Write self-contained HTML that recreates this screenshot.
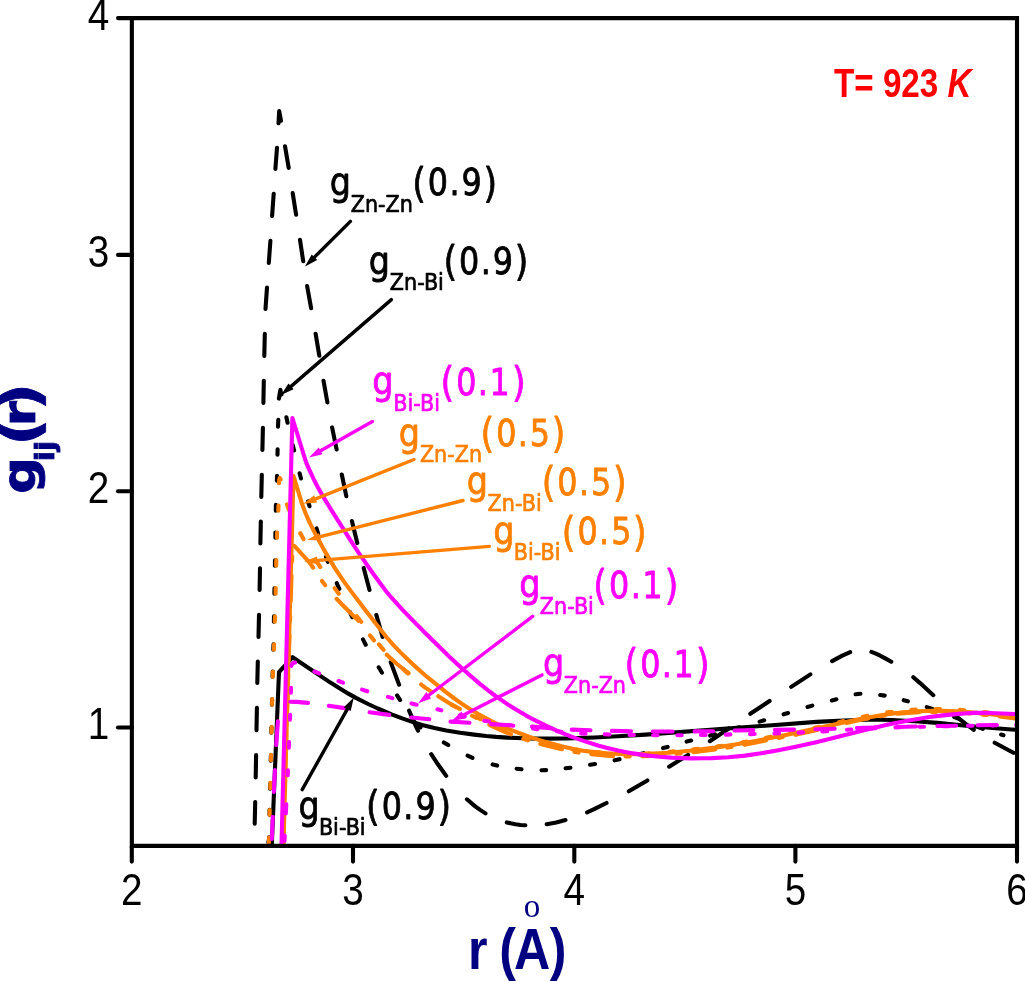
<!DOCTYPE html>
<html><head><meta charset="utf-8"><title>g_ij(r) T=923K</title>
<style>html,body{margin:0;padding:0;background:#fff}svg{display:block}</style></head>
<body><svg width="1025" height="981" viewBox="0 0 1025 981">
<defs><clipPath id="pc"><rect x="131.85" y="18" width="885.15" height="827.9"/></clipPath></defs>
<rect width="1025" height="981" fill="#fff"/>
<g clip-path="url(#pc)">
<path d="M254.7 823.6 L255.2 802 M255.7 777.4 L256.1 755.1 M256.5 730.2 L256.9 707.9 M257.3 682.9 L257.8 661.5 M258.5 636.9 L259 614.9 M259.6 589.9 L260 568.2 M260.4 543.5 L260.8 521.5 M261.3 496.9 L261.8 474.9 M262.4 449.9 L262.9 427.9 M263.4 402.9 L263.8 380.9 M264.3 355.9 L264.8 333.9 M265.5 308.9 L267 287.5 M268.8 262.9 L270.4 240.8 M272.1 215.9 L273.7 193.8 M275.4 168.9 L277 147.7 M278.5 123.3 L279.2 111 L281 120.8 M285 146.2 L288.7 167.9 M292.7 193.1 L296.1 214.7 M300 239.7 L303.2 261.3 M307.1 286 L311.1 308.2 M315.6 333.7 L319.3 355.7 M323.5 380.7 L327.4 402.5 M332.1 427.4 L336.6 449.4 M341.8 474.5 L346.3 496.2 M351.9 521.1 L357.3 542.9 M363.7 567.9 L369.5 589.9 M376.3 614.9 L382.6 637 M390.7 662.1 L399.1 684.7 M409.1 710.6 L413.6 721.4 L418 730.7 M431.2 754.2 L437.9 764.3 L446.2 775.9 M466.9 799.3 L474.9 806.1 L480.1 809.9 L485.5 813.4 M506.8 822.4 L510.5 823.3 L515.5 824.3 L520.5 825 L525.3 825.3 M546.7 824.2 L556.3 822.4 L565.5 820.1 M587.1 812.3 L594.1 809.2 L606.5 803 M628.8 791.3 L647.4 780.4 M669.1 766.7 L688.1 754.9 M709.8 741.2 L728.8 728.5 M750.3 713.8 L769.6 701 M791.2 686.9 L810.4 674.4 M832.1 661.1 L842.3 655.6 L850.2 652.2 M871.4 651.9 L875.9 653.7 L880.2 655.7 L884.8 658.1 L891.3 661.8 M913.3 677.2 L920.1 683.1 L933.3 695.2 M955.6 715.8 L966 724.1 L973.8 729.8 M994.7 742.7 L1013.4 752.8" stroke="#000" stroke-width="4.1" fill="none" stroke-linecap="round" stroke-linejoin="round"/>
<path d="M268.4 842.3 L269 839.6 L269.1 837.2 M269.5 814.7 L269.6 809.9 M270.1 788.7 L270.3 783.3 M270.7 760.7 L270.9 755.3 M271.3 732.7 L271.5 727.3 M271.9 704.7 L272.1 699.3 M272.5 676.7 L272.7 671.6 M273.3 649.7 L273.5 644.3 M273.9 621.7 L274 616.3 M274.4 593.7 L274.5 588.3 M274.9 565.7 L275 560.3 M275.4 537.7 L275.4 532.6 M275.8 510.7 L275.9 504.7 M276.9 480.7 L277 475.9 M277.5 454.7 L277.6 449.3 M278 426.7 L278.3 419.8 M280.1 394.6 L280.4 389.8 L280.8 391.8 M286.4 417.3 L287.6 422.7 M292.8 445.2 L294.1 450.5 M299.6 473.3 L301 478.5 M308 501.4 L309.5 506.2 M316.5 528.4 L318.2 533.9 M325.9 556.9 L327.8 561.8 M336.8 583.2 L339.3 588.9 M349.8 611.9 L352.2 617.1 M363 639.4 L365.7 644.7 M378.7 667.3 L382 672.7 M397.1 695.4 L400.1 700.1 M413.7 721.2 L416 723.7 L420.4 727.4 M443.8 742.5 L448.2 745.1 M467.6 755.6 L472.5 757.8 M492.6 764.4 L497.2 765.6 M516.6 768.7 L521.5 769.2 M541.5 770.2 L546.1 770.1 M565.6 768.3 L570.4 767.7 M590.1 764.8 L595 764 M614.6 760.3 L619.5 759.2 M639.2 754.3 L643.7 753.2 M663.1 748.1 L667.6 746.9 M686.6 741.6 L691.1 740.5 M710.2 735.6 L715 734.3 M734.8 728.6 L739.5 727.3 M759.6 721.6 L764.2 720.3 M783.6 714.3 L788.1 713 M807.5 707 L812.3 705.6 M831.9 700.5 L836.4 699.3 M855.6 694.3 L860.4 693.8 M880.2 695 L884.7 695.6 M903.7 700.2 L907.9 701.3 M926.8 707.1 L932.5 709 M954.2 717.1 L958.9 718.9 M978.7 727.4 L982.8 728.9 M1001.1 734.5 L1003.5 735.2 M278.9 398.6 L280.3 390.2 L281.5 394.6" stroke="#000" stroke-width="4.1" fill="none" stroke-linecap="round" stroke-linejoin="round"/>
<path d="M271.8 845 L279 672.2 L292.6 657.2 L330.4 682.6 L347.9 693.4 L355.9 697.9 L368.1 704 L377.8 708.5 L391.5 714.3 L402.2 718.4 L412.3 721.9 L422.1 724.9 L434.5 728 L446.2 730.4 L460.2 732.7 L474.1 734.6 L486.3 736 L496.2 736.9 L507 737.6 L523.3 738.3 L536.7 738.6 L567.1 738.4 L594.6 737.5 L617.7 736.3 L645.6 734.6 L816.6 721.9 L843.4 720.5 L868.1 719.7 L880.1 719.7 L891.8 720 L914.7 721.2 L937.6 722.9 L971.2 726.2 L995.6 728.3 L1011.5 729.5 L1030 730.5" stroke="#000" stroke-width="4.1" fill="none" stroke-linecap="round" stroke-linejoin="round" stroke-linejoin="miter"/>
<path d="M283.5 845 L293.5 475.9 L301.8 503.1 L304.3 509.9 L307 516.7 L310.5 524.3 L316.2 535.6 L323.3 548.6 L329.7 559.6 L335.2 568.6 L340.4 576.4 L345.2 583.4 L353 593.9 L366 611.1 L381.4 630.8 L386.8 637.5 L394.4 646.1 L400.5 652.4 L408 659.7 L417.2 668.2 L427.4 677.2 L446.3 692.4 L454.4 698.5 L462.4 704.1 L470.3 709.2 L478.2 714 L490 720.4 L497.8 724.3 L505.6 727.7 L513.3 730.9 L531.1 737.5 L544 741.4 L561.5 746.3 L574.9 749.3 L584.5 750.9 L599.9 752.7 L614 753.8 L632.8 754.2 L648.5 753.9 L668.7 752.7 L689.6 750.7 L715 747.6 L735 744.6 L754.3 741.2 L784.5 735.2 L861.1 718.7 L884 714.7 L891.7 713.6 L903.1 712.4 L918.4 711.3 L929.8 710.9 L941.3 710.9 L956.5 711.4 L968.1 712.1 L990.1 714.1 L1030 718.5" stroke="#ff8000" stroke-width="4.1" fill="none" stroke-linecap="round" stroke-linejoin="round" />
<path d="M282.7 837.8 L283.6 812.6 M284.1 798.2 L284.2 793.4 M284.7 778.7 L285.6 753.5 M286.1 739.1 L286.2 734.3 M286.7 719.3 L287.6 694.3 M288 679.9 L288.2 675.1 M288.7 660.1 L289.5 635.2 M290 620.8 L290.2 616 M290.7 601 L291.5 575.8 M292 561.4 L292.2 556.6 M294.4 545.9 L307.6 560.4 L309.6 562.8 L313.2 567.7 M322 581 L325.2 585.2 M336.6 598.8 L342.8 605.2 L358.5 620.9 M369.9 635.4 L374 640.4 M386.8 654.7 L390.9 658.6 L397 664 L408.6 673.2 M421.1 684.5 L425.2 687.7 M438.3 696.2 L449 703 L459.9 709 M472.2 715.7 L476.4 718 M489.4 724.8 L497.9 728.8 L510.9 734.3 M523.3 738.9 L527.6 740.3 M540.3 743.9 L561.9 749.2 M574.4 751.9 L578.6 752.6 M591.3 754.2 L601.9 755.3 L613.1 756.1 M625.5 756.5 L629.6 756.5 M642.4 756.3 L652 755.9 L664 755 M676.6 753.8 L680.7 753.4 M693.4 752.1 L715.2 749.4 M727.4 747.6 L731.5 746.9 M744.5 744.7 L766 740.4 M778.6 737.9 L782.7 737.1 M795.4 734.7 L817.2 730 M829.6 727.1 L833.7 726.1 M846.7 723.1 L857.3 720.6 L868.2 718.4 M880.6 716.1 L884.7 715.5 M897.7 713.8 L906.9 712.9 L919.3 712.2 M931.7 711.9 L935.9 711.9 M948.6 712.2 L960.4 712.7 L970.3 713.4 M982.6 714.6 L986.7 715 M999.5 716.4 L1021.2 719.1" stroke="#ff8000" stroke-width="4.1" fill="none" stroke-linecap="round" stroke-linejoin="round"/>
<path d="M268.9 842.8 L269.1 837.5 M269.6 814.8 L269.7 810 M270.3 788.3 L270.4 782.8 M270.9 760.3 L271.1 754.8 M271.5 732.4 L271.7 726.9 M272.1 704.6 L272.2 699.1 M272.7 676.8 L272.9 671.8 M273.9 649.7 L274.1 644.4 M274.8 621.6 L275 616.2 M275.6 593.7 L275.7 588.1 M276.2 565.6 L276.3 560.1 M276.9 537.8 L277.1 532.6 M278.3 510.6 L278.5 505.5 M278.9 483.2 L279.3 478.9 L279.8 478 L280.4 478.8 L280.6 479.4 M286.9 504.4 L289 510.1 M300.3 533.2 L303.5 539.1 M317.3 562.3 L320.3 567.1 M334.7 588.2 L338.8 593.7 M356.8 616.2 L361.2 621.8 M378.9 644.4 L383.6 649.8 M403.2 669.2 L407.9 673.4 M427.3 688.8 L431.9 692.1 M451.7 705 L456.1 707.1 M475.9 716.9 L480.5 719.3 M499.9 728.7 L504.7 730.7 M524.1 738.2 L528.7 739.6 M548.2 744 L553 745 M572.5 749.2 L577.2 749.8 M596.9 752 L601.3 752.5 M621 753.7 L625.5 753.8 M645.2 753.5 L649.9 753.3 M669.3 751.8 L674 751.4 M693.4 749.4 L698.1 748.8 M717.7 746.4 L722.2 745.7 M742 742.4 L746.7 741.6 M766 737.7 L770.8 736.7 M790.4 732.9 L794.8 732 M814.6 727.8 L819 726.8 M838.7 722.2 L843.5 721.1 M862.9 716.7 L867.5 715.8 M887.2 712.3 L891.7 711.7 M911.4 709.8 L915.8 709.6 M935.6 709.1 L940 709.1 M959.8 709.9 L964.2 710.2 M983.9 712 L988.6 712.5 M1008.2 714.8 L1012.8 715.3" stroke="#ff8000" stroke-width="4.1" fill="none" stroke-linecap="round" stroke-linejoin="round"/>
<path d="M271.8 839 L272.8 816.8 M273.9 791.9 L274.9 770 M276.2 745 L277.9 721.3 M290.3 701.8 L296.3 701.9 L308 702.9 M328.8 705.8 L347.8 708.6 M369.6 712.3 L389.3 714.9 M411.4 717.5 L429.3 719.2 M450.5 721.6 L469.5 722.8 M491.2 724.1 L510.1 725.2 M531.9 726.6 L550.6 728.1 M571.8 729.6 L590.4 730.3 M611.9 730.9 L631 731.2 M652.8 731.5 L672.5 731.5 M694.6 731.4 L713.2 731.2 M734.5 730.5 L753.3 730.1 M774.9 729.9 L794 729.6 M815.4 729.2 L834.7 728.7 M856.8 728 L875.7 727.5 M897 727 L916 726.5 M937.5 726 L956.1 725.7 M977.7 725.3 L996.5 725 M1018.1 724.7 L1030 724.5" stroke="#ff00ff" stroke-width="4.1" fill="none" stroke-linecap="round" stroke-linejoin="round"/>
<path d="M284.5 840.8 L284.7 835.6 M285.8 813.3 L286.3 804.4 M287.7 775.3 L287.9 770.2 M288.8 747.6 L289 742.1 M289.9 719.8 L290.1 714.8 M290.9 692.8 L291 687.9 M291.4 665.8 L291.7 664.7 L293 663 L295.2 662.5 M314.4 671.5 L319.1 673.4 M338.5 681 L343 682.7 M362.1 689.6 L367.3 691.3 M388 696.9 L392.3 698.1 M411.5 703.4 L416.6 704.7 M437.4 709.3 L441.4 710.3 M460 715.2 L464.8 716.4 M484.3 720.7 L489.1 721.5 M508.7 724.9 L513.3 725.7 M533.1 728.5 L537.4 729.1 M556.9 731.3 L561.4 731.8 M581.1 733.5 L585.5 733.7 M604.7 734.3 L609.6 734.5 M629.6 735 L633.9 735 M653.2 735.3 L657.5 735.3 M677.4 735.2 L681.7 735.2 M700.9 735 L705.7 735 M725.8 734.6 L730.4 734.4 M750.1 734.1 L754.7 734 M774.4 733.5 L779.1 733.3 M798.5 732.6 L803.1 732.4 M822.3 731.5 L827.3 731.3 M847 729.7 L851.4 729.5 M871.2 728.4 L875.7 728.2 M895.4 727.5 L899.7 727.3 M919.4 726.8 L924 726.7 M943.7 726.3 L948.3 726.2 M967.9 725.8 L972.5 725.8 M991.9 725.4 L996.8 725.3 M1016.3 725 L1020.9 724.9" stroke="#ff00ff" stroke-width="4.1" fill="none" stroke-linecap="round" stroke-linejoin="round"/>
<path d="M281.5 845 L292.4 418 L304.4 457 L306.5 463.3 L313.4 478.6 L318.1 487.7 L323.9 497.9 L330.9 509.4 L350.1 539.7 L358.7 552.8 L372.7 573 L380.7 584 L386.3 591.5 L391.5 597.7 L402.1 609.3 L413.5 621.1 L427 634.7 L449.4 656.7 L457.2 664 L468.7 674.3 L480.2 684.1 L487.8 690.2 L495.5 696 L507 703.9 L514.7 708.8 L526.2 715.6 L533.8 719.7 L545.3 725.4 L556.8 730.7 L564.4 733.9 L572 736.9 L583.5 740.9 L598.8 745.7 L606.4 747.7 L617.8 750.5 L633.1 753.4 L644.5 755.1 L652.1 756 L659.7 756.8 L671.2 757.6 L691 758.4 L703.2 758.3 L711.5 758.1 L728.4 757.2 L745.1 755.6 L761.2 753.3 L777 750.6 L792.3 747.5 L815.2 742.4 L838.2 736.8 L865 730 L888.2 724.5 L906 720.9 L929.6 717 L942.8 715.4 L953 714.4 L967.2 713.3 L975.5 712.9 L984.3 712.9 L996.4 713.2 L1014.7 714 L1030 715" stroke="#ff00ff" stroke-width="4.1" fill="none" stroke-linecap="round" stroke-linejoin="round" />
</g>
<path d="M350.4 221.4 L313 258.6" stroke="#000" stroke-width="3.4" stroke-linecap="round" fill="none"/>
<path d="M305 266.6 L311.7 254.5 L317.2 260 Z" fill="#000"/>
<path d="M391.4 299.6 L289.6 387.6" stroke="#000" stroke-width="3.4" stroke-linecap="round" fill="none"/>
<path d="M281 395 L288.5 383.4 L293.6 389.3 Z" fill="#000"/>
<path d="M372.4 421.6 L318.8 451.8" stroke="#ff00ff" stroke-width="3.4" stroke-linecap="round" fill="none"/>
<path d="M309 457.4 L318.7 447.5 L322.5 454.3 Z" fill="#ff00ff"/>
<path d="M414 459.5 L313.8 499.6" stroke="#ff8000" stroke-width="3.4" stroke-linecap="round" fill="none"/>
<path d="M303.3 503.8 L314.2 495.2 L317.1 502.5 Z" fill="#ff8000"/>
<path d="M463 500.5 L318.2 537.2" stroke="#ff8000" stroke-width="3.4" stroke-linecap="round" fill="none"/>
<path d="M307.2 540 L319.1 533 L321.1 540.5 Z" fill="#ff8000"/>
<path d="M489.4 546.4 L315.5 560.6" stroke="#ff8000" stroke-width="3.4" stroke-linecap="round" fill="none"/>
<path d="M304.2 561.5 L317.1 556.5 L317.8 564.3 Z" fill="#ff8000"/>
<path d="M532.6 616.4 L427.2 696.5" stroke="#ff00ff" stroke-width="3.4" stroke-linecap="round" fill="none"/>
<path d="M418.2 703.3 L426.4 692.1 L431.1 698.4 Z" fill="#ff00ff"/>
<path d="M542 674.9 L461.6 715.9" stroke="#ff00ff" stroke-width="3.4" stroke-linecap="round" fill="none"/>
<path d="M451.5 721 L461.6 711.5 L465.1 718.4 Z" fill="#ff00ff"/>
<path d="M302.2 789.6 L348.3 707.4" stroke="#000" stroke-width="3.4" stroke-linecap="round" fill="none"/>
<path d="M353.8 697.5 L350.7 711 L343.9 707.2 Z" fill="#000"/>
<g stroke="#000" stroke-width="4.1" fill="none" stroke-linecap="round">
<path d="M131.85 18.15 H1017.0 V845.9 H131.85 Z" stroke-linejoin="miter" stroke-linecap="butt"/>
<path d="M118.0 18.1 H131.85"/>
<path d="M118.0 254.9 H131.85"/>
<path d="M118.0 491.2 H131.85"/>
<path d="M118.0 727.5 H131.85"/>
<path d="M131.8 845.9 V861.6"/>
<path d="M353 845.9 V861.6"/>
<path d="M574.3 845.9 V861.6"/>
<path d="M795.4 845.9 V861.6"/>
<path d="M1017 845.9 V861.6"/>
</g>
<text transform="translate(109.2 29.9) scale(0.86 1)" font-family="'Liberation Sans', sans-serif" font-size="45" font-weight="normal" font-style="normal" fill="#000" text-anchor="end" >4</text>
<text transform="translate(109.2 266.7) scale(0.86 1)" font-family="'Liberation Sans', sans-serif" font-size="45" font-weight="normal" font-style="normal" fill="#000" text-anchor="end" >3</text>
<text transform="translate(109.2 503) scale(0.86 1)" font-family="'Liberation Sans', sans-serif" font-size="45" font-weight="normal" font-style="normal" fill="#000" text-anchor="end" >2</text>
<text transform="translate(109.2 739.3) scale(0.86 1)" font-family="'Liberation Sans', sans-serif" font-size="45" font-weight="normal" font-style="normal" fill="#000" text-anchor="end" >1</text>
<text transform="translate(131.8 905.4) scale(0.86 1)" font-family="'Liberation Sans', sans-serif" font-size="45" font-weight="normal" font-style="normal" fill="#000" text-anchor="middle" >2</text>
<text transform="translate(353 905.4) scale(0.86 1)" font-family="'Liberation Sans', sans-serif" font-size="45" font-weight="normal" font-style="normal" fill="#000" text-anchor="middle" >3</text>
<text transform="translate(574.3 905.4) scale(0.86 1)" font-family="'Liberation Sans', sans-serif" font-size="45" font-weight="normal" font-style="normal" fill="#000" text-anchor="middle" >4</text>
<text transform="translate(795.4 905.4) scale(0.86 1)" font-family="'Liberation Sans', sans-serif" font-size="45" font-weight="normal" font-style="normal" fill="#000" text-anchor="middle" >5</text>
<text transform="translate(1017 905.4) scale(0.86 1)" font-family="'Liberation Sans', sans-serif" font-size="45" font-weight="normal" font-style="normal" fill="#000" text-anchor="middle" >6</text>
<text transform="translate(834 97) scale(0.83 1)" font-family="'Liberation Sans', sans-serif" font-size="40" font-weight="bold" fill="#ff0000">T= 923 <tspan font-style="italic">K</tspan></text>
<text transform="translate(0 969.2) scale(0.88 1)" font-family="'Liberation Sans', sans-serif" font-size="57" font-weight="bold" fill="#000080"><tspan x="531.9">r </tspan><tspan x="567.3">(</tspan><tspan x="584.2">A</tspan><tspan x="624.8">)</tspan></text>
<text transform="translate(532 916.5)" font-family="'Liberation Serif', serif" font-size="33" text-anchor="middle" fill="#000080">o</text>
<text transform="translate(35.0 491.3) rotate(-90) scale(1.12 1)" font-family="'DejaVu Sans', sans-serif" font-size="45.5" font-weight="bold" fill="#000080" stroke="#000080" stroke-width="0.8"><tspan x="-2.1">g</tspan><tspan font-size="27" x="26.8" dy="19">ij</tspan><tspan font-size="53" dy="-15.5" x="40.7">(</tspan><tspan x="58.2" dy="-3.5">r</tspan><tspan font-size="53" dy="3.5" x="72.3">)</tspan></text>
<g font-family="'DejaVu Sans', sans-serif" fill="#000" stroke="#000" stroke-linejoin="round">
<text transform="translate(329.81 194.9) scale(0.889 1)" font-size="37.6" stroke-width="0.8">g</text>
<text transform="translate(350.69 211.5) scale(0.918 1)" font-size="22.6" stroke-width="0.7">Zn-Zn</text>
<text transform="translate(0 195.3) scale(0.853 1)" font-size="37.3" stroke-width="0.8"><tspan x="483.16" dy="1.4" font-size="41.0">(</tspan><tspan x="501.57" dy="-1.4">0</tspan><tspan x="526.92">.</tspan><tspan x="541.03">9</tspan><tspan x="566.85" dy="1.4" font-size="41.0">)</tspan></text>
</g>
<g font-family="'DejaVu Sans', sans-serif" fill="#000" stroke="#000" stroke-linejoin="round">
<text transform="translate(368.71 273.5) scale(0.889 1)" font-size="37.6" stroke-width="0.8">g</text>
<text transform="translate(389.79 290.1) scale(0.918 1)" font-size="22.6" stroke-width="0.7">Zn-Bi</text>
<text transform="translate(0 273.9) scale(0.853 1)" font-size="37.3" stroke-width="0.8"><tspan x="519.86" dy="1.4" font-size="41.0">(</tspan><tspan x="538.26" dy="-1.4">0</tspan><tspan x="563.61">.</tspan><tspan x="577.72">9</tspan><tspan x="603.54" dy="1.4" font-size="41.0">)</tspan></text>
</g>
<g font-family="'DejaVu Sans', sans-serif" fill="#ff00ff" stroke="#ff00ff" stroke-linejoin="round">
<text transform="translate(372.31 394.3) scale(0.889 1)" font-size="37.6" stroke-width="0.8">g</text>
<text transform="translate(393.19 410.9) scale(0.918 1)" font-size="22.6" stroke-width="0.7">Bi-Bi</text>
<text transform="translate(0 394.7) scale(0.853 1)" font-size="37.3" stroke-width="0.8"><tspan x="516.46" dy="1.4" font-size="41.0">(</tspan><tspan x="534.86" dy="-1.4">0</tspan><tspan x="560.21">.</tspan><tspan x="573.86">1</tspan><tspan x="600.14" dy="1.4" font-size="41.0">)</tspan></text>
</g>
<g font-family="'DejaVu Sans', sans-serif" fill="#ff8000" stroke="#ff8000" stroke-linejoin="round">
<text transform="translate(398.71 445.6) scale(0.889 1)" font-size="37.6" stroke-width="0.8">g</text>
<text transform="translate(419.89 462.2) scale(0.918 1)" font-size="22.6" stroke-width="0.7">Zn-Zn</text>
<text transform="translate(0 446) scale(0.853 1)" font-size="37.3" stroke-width="0.8"><tspan x="563.23" dy="1.4" font-size="41.0">(</tspan><tspan x="581.64" dy="-1.4">0</tspan><tspan x="606.99">.</tspan><tspan x="621.15">5</tspan><tspan x="646.92" dy="1.4" font-size="41.0">)</tspan></text>
</g>
<g font-family="'DejaVu Sans', sans-serif" fill="#ff8000" stroke="#ff8000" stroke-linejoin="round">
<text transform="translate(466.71 494.3) scale(0.889 1)" font-size="37.6" stroke-width="0.8">g</text>
<text transform="translate(487.59 510.9) scale(0.918 1)" font-size="22.6" stroke-width="0.7">Zn-Bi</text>
<text transform="translate(0 494.7) scale(0.853 1)" font-size="37.3" stroke-width="0.8"><tspan x="634.98" dy="1.4" font-size="41.0">(</tspan><tspan x="653.38" dy="-1.4">0</tspan><tspan x="678.73">.</tspan><tspan x="692.9">5</tspan><tspan x="718.66" dy="1.4" font-size="41.0">)</tspan></text>
</g>
<g font-family="'DejaVu Sans', sans-serif" fill="#ff8000" stroke="#ff8000" stroke-linejoin="round">
<text transform="translate(493.21 543.7) scale(0.889 1)" font-size="37.6" stroke-width="0.8">g</text>
<text transform="translate(513.69 560.3) scale(0.918 1)" font-size="22.6" stroke-width="0.7">Bi-Bi</text>
<text transform="translate(0 544.1) scale(0.853 1)" font-size="37.3" stroke-width="0.8"><tspan x="658.54" dy="1.4" font-size="41.0">(</tspan><tspan x="676.95" dy="-1.4">0</tspan><tspan x="702.3">.</tspan><tspan x="716.46">5</tspan><tspan x="742.23" dy="1.4" font-size="41.0">)</tspan></text>
</g>
<g font-family="'DejaVu Sans', sans-serif" fill="#ff00ff" stroke="#ff00ff" stroke-linejoin="round">
<text transform="translate(519.21 597.2) scale(0.889 1)" font-size="37.6" stroke-width="0.8">g</text>
<text transform="translate(539.79 613.8) scale(0.918 1)" font-size="22.6" stroke-width="0.7">Zn-Bi</text>
<text transform="translate(0 597.6) scale(0.853 1)" font-size="37.3" stroke-width="0.8"><tspan x="695.59" dy="1.4" font-size="41.0">(</tspan><tspan x="713.99" dy="-1.4">0</tspan><tspan x="739.34">.</tspan><tspan x="752.99">1</tspan><tspan x="779.27" dy="1.4" font-size="41.0">)</tspan></text>
</g>
<g font-family="'DejaVu Sans', sans-serif" fill="#ff00ff" stroke="#ff00ff" stroke-linejoin="round">
<text transform="translate(542.91 676.1) scale(0.889 1)" font-size="37.6" stroke-width="0.8">g</text>
<text transform="translate(563.79 692.7) scale(0.918 1)" font-size="22.6" stroke-width="0.7">Zn-Zn</text>
<text transform="translate(0 676.5) scale(0.853 1)" font-size="37.3" stroke-width="0.8"><tspan x="732.17" dy="1.4" font-size="41.0">(</tspan><tspan x="750.57" dy="-1.4">0</tspan><tspan x="775.92">.</tspan><tspan x="789.57">1</tspan><tspan x="815.85" dy="1.4" font-size="41.0">)</tspan></text>
</g>
<g font-family="'DejaVu Sans', sans-serif" fill="#000" stroke="#000" stroke-linejoin="round">
<text transform="translate(298.51 818.6) scale(0.889 1)" font-size="37.6" stroke-width="0.8">g</text>
<text transform="translate(318.89 835.2) scale(0.918 1)" font-size="22.6" stroke-width="0.7">Bi-Bi</text>
<text transform="translate(0 819) scale(0.853 1)" font-size="37.3" stroke-width="0.8"><tspan x="429.12" dy="1.4" font-size="41.0">(</tspan><tspan x="447.52" dy="-1.4">0</tspan><tspan x="472.87">.</tspan><tspan x="486.98">9</tspan><tspan x="512.8" dy="1.4" font-size="41.0">)</tspan></text>
</g>
</svg></body></html>
